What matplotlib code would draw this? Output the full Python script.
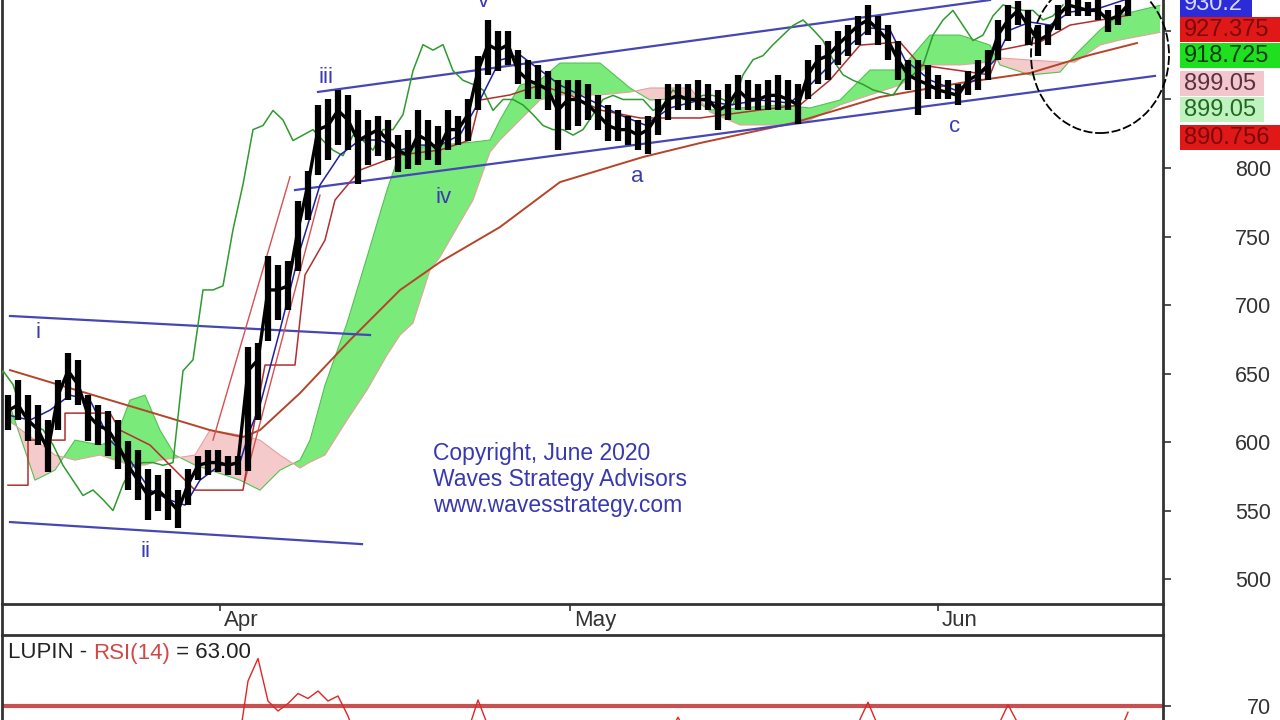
import matplotlib.pyplot as plt
from matplotlib.patches import Ellipse, Rectangle
from matplotlib.lines import Line2D
from matplotlib.transforms import ScaledTranslation
import numpy as np

plt.rcParams['font.family'] = ['Liberation Sans', 'DejaVu Sans']

# hourly bars (index 0..112)
highs = [634, 645, 634, 627, 616, 645, 665, 660, 634, 627,
         623, 616, 601, 594, 580, 576, 580, 565, 580, 590,
         594, 594, 590, 590, 669, 672, 736, 729, 732, 776,
         798, 846, 850, 857, 853, 842, 835, 838, 835, 824,
         828, 842, 835, 831, 842, 838, 850, 882, 908, 900,
         900, 886, 879, 875, 871, 864, 864, 864, 861, 853,
         846, 842, 838, 835, 838, 850, 861, 861, 861, 864,
         861, 857, 861, 868, 864, 861, 864, 868, 864, 861,
         879, 890, 893, 900, 904, 911, 919, 911, 904, 893,
         879, 879, 875, 868, 864, 861, 871, 879, 886, 908,
         919, 922, 915, 904, 904, 919, 925, 925, 921, 924,
         915, 919, 925]
lows = [609, 616, 601, 598, 578, 609, 631, 627, 601, 598,
        590, 580, 565, 558, 543, 550, 543, 537, 554, 572,
        576, 578, 576, 576, 579, 616, 674, 689, 696, 725,
        762, 795, 806, 817, 813, 788, 802, 809, 806, 797,
        799, 802, 806, 802, 813, 817, 820, 842, 868, 871,
        875, 861, 850, 850, 842, 813, 828, 831, 835, 828,
        820, 820, 817, 813, 810, 824, 835, 842, 842, 842,
        842, 828, 835, 842, 842, 842, 842, 842, 842, 832,
        850, 861, 864, 875, 882, 890, 897, 890, 879, 864,
        857, 839, 850, 850, 850, 846, 853, 857, 864, 879,
        893, 904, 890, 882, 890, 901, 911, 911, 911, 908,
        899, 904, 911]
closes = [623, 627, 616, 609, 594, 634, 652, 642, 620, 612,
          609, 598, 583, 572, 561, 565, 558, 550, 569, 583,
          585, 585, 583, 585, 652, 660, 711, 711, 714, 755,
          788, 828, 831, 842, 835, 820, 824, 828, 820, 813,
          809, 824, 820, 813, 828, 828, 839, 871, 890, 886,
          890, 871, 864, 861, 857, 842, 850, 850, 846, 839,
          831, 828, 828, 824, 828, 839, 850, 853, 850, 850,
          850, 842, 846, 857, 850, 850, 853, 853, 850, 846,
          868, 879, 882, 890, 897, 904, 908, 901, 893, 879,
          868, 864, 861, 857, 855, 853, 864, 868, 875, 897,
          908, 915, 904, 893, 897, 911, 919, 917, 915, 915,
          908, 911, 919]
rsi = [52, 55, 50, 48, 45, 55, 60, 57, 50, 48,
       47, 45, 42, 40, 38, 40, 38, 36, 45, 50,
       52, 52, 51, 53, 80, 89, 72, 68, 71, 75,
       73, 76, 72, 74, 66, 55, 55, 56, 53, 50,
       49, 55, 53, 50, 56, 56, 60, 72.4, 62, 60,
       61, 55, 52, 51, 50, 45, 50, 50, 48, 46,
       44, 43, 43, 42, 44, 52, 58, 65.5, 58, 59,
       58, 53, 55, 60, 57, 57, 59, 59, 56, 54,
       58, 60, 59, 60, 61, 63, 71.5, 62, 58, 50,
       46, 45, 45, 44, 44, 43, 50, 53, 57, 62,
       70.5, 63, 60, 55, 57, 62, 63, 62, 61, 62,
       58, 58, 67.5]
bars = np.arange(len(closes))

tenkan_x = [0, 2.2, 4.2, 6.2, 8.2, 10.2, 12.2, 14.2, 16.2, 17.7,
            19.2, 21.2, 23.2, 24.2, 25.2, 27.2, 29.2, 31.2, 33.2, 35.2,
            37.2, 39.2, 41.2, 43.2, 45.2, 47.2, 49.2, 51.2, 53.2, 55.2,
            58.2, 61.2, 63.7, 66.2, 69.2, 72.2, 75.2, 78.2, 80.2, 82.2,
            84.2, 86.2, 88.2, 89.7, 92.2, 94.7, 96.7, 98.7, 100.2, 102.2,
            104.2, 106.2, 109.2, 112.2]
tenkan = [619.7, 616.0, 623.3, 634.2, 630.6, 601.4, 586.8, 564.9, 557.6, 554.0,
          572.2, 583.1, 585.3, 608.7, 626.9, 681.7, 740.1, 787.6, 809.5, 820.4,
          820.4, 813.1, 816.7, 816.7, 824.1, 849.6, 878.8, 882.5, 871.5, 860.5,
          849.6, 838.7, 831.4, 843.8, 849.6, 846.0, 849.6, 847.4, 860.5, 875.2,
          889.7, 902.2, 900.7, 878.8, 864.2, 856.9, 864.2, 878.8, 900.7, 906.5,
          904.3, 913.8, 916.8, 924.0]

kijun_x = [0, 2.0, 2.0, 5.7, 5.7, 10.2, 11.2, 14.2, 16.7, 18.7,
           23.5, 24.5, 25.7, 28.7, 29.7, 31.7, 32.7, 35.2, 39.2, 43.2,
           46.2, 47.2, 50.2, 53.2, 56.2, 59.2, 63.2, 69.2, 75.2, 79.2,
           82.2, 85.2, 89.2, 91.2, 98.2, 99.2, 103.2, 106.2, 112.2]
kijun = [568.5, 568.5, 601.4, 601.4, 621.1, 621.1, 608.7, 597.8, 579.5, 564.9,
         564.9, 608.7, 656.2, 656.2, 721.9, 747.4, 776.6, 798.5, 809.5, 813.1,
         820.4, 849.6, 853.3, 860.5, 853.3, 842.3, 836.5, 836.5, 842.3, 846.0,
         864.2, 889.7, 891.9, 875.2, 867.9, 886.1, 891.9, 904.3, 911.6]

ma_x = [0.2, 5.2, 10.2, 15.2, 20.2, 23.5, 25.2, 29.2, 34.2, 39.2,
        43.2, 49.2, 55.2, 63.5, 69.2, 78.5, 87.2, 95.2, 102.2, 108.2, 112.9]
ma = [652.5, 641.5, 630.6, 619.7, 608.7, 603.6, 608.7, 635.7, 674.4, 710.9,
      731.3, 756.9, 789.7, 808.0, 818.2, 832.8, 851.8, 862.0, 869.3, 882.5, 891.2]

cloud_x = [0.0, 2.7, 4.7, 6.7, 9.2, 10.7, 12.2, 13.7, 15.2, 16.7,
           18.7, 20.2, 23.2, 25.2, 27.2, 29.2, 30.2, 31.7, 33.9, 35.9,
           37.9, 39.2, 40.5, 42.2, 43.2, 46.5, 48.2, 49.2, 51.2, 53.2,
           55.2, 59.2, 62.2, 64.2, 68.2, 70.2, 73.2, 77.2, 80.2, 83.2,
           86.2, 89.2, 92.2, 95.2, 98.2, 99.2, 102.2, 105.2, 106.7, 109.2,
           111.2, 115.2]
span_a = [630.6, 572.2, 579.5, 601.4, 597.8, 601.4, 630.6, 634.2, 608.7, 590.5,
          583.2, 579.5, 572.2, 564.9, 579.5, 586.8, 601.4, 641.5, 686.8, 735.0,
          783.9, 811.6, 814.6, 816.0, 816.7, 818.9, 820.4, 835.0, 860.5, 864.2,
          876.6, 876.6, 858.4, 849.6, 851.1, 842.3, 843.8, 846.0, 843.8, 849.6,
          871.5, 871.5, 897.0, 897.0, 889.7, 875.2, 867.9, 870.0, 882.5, 900.7,
          911.7, 918.7]
span_b = [616.0, 601.4, 590.5, 586.8, 590.5, 586.8, 583.2, 583.2, 586.8, 588.3,
          590.5, 608.7, 605.1, 601.4, 590.5, 581.0, 585.3, 590.5, 616.0, 637.9,
          663.4, 678.0, 686.8, 725.5, 735.0, 776.6, 811.6, 820.4, 835.0, 849.6,
          853.3, 853.3, 855.4, 858.4, 858.4, 840.8, 831.4, 831.4, 835.0, 846.0,
          853.3, 860.5, 875.2, 875.2, 877.3, 880.3, 878.8, 877.3, 877.3, 889.7,
          893.4, 899.0]

chikou_shift = 6.5

# wave channels: (bar, price) anchors
channels = [((0.2, 692.0), (36.2, 678.1)),
            ((0.2, 541.6), (35.4, 525.5)),
            ((31.0, 855.5), (98.2, 922.6)),
            ((28.7, 783.9), (114.7, 867.2))]
red_guides = [((20.5, 601.4), (28.2, 793.6)),
              ((23.7, 572.2), (31.2, 780.2))]
wave_labels = ['i', 'ii', 'iii', 'iv', 'v', 'a', 'c']
wave_pos = [(3.0, 680.2), (13.7, 520.4), (31.8, 866.4), (43.6, 778.1),
            (47.5, 921.5), (62.9, 794.1), (94.7, 830.6)]

month_ticks = [21.2, 56.2, 93.0]
month_labels = ['Apr', 'May', 'Jun']
price_ticks = [500, 550, 600, 650, 700, 750, 800, 850, 900]
price_labels = ['500', '550', '600', '650', '700', '750', '800', '', '']

tag_values = ['930.2', '927.375', '918.725', '899.05', '899.05', '890.756']
tag_face = ['#2b2bd8', '#e01818', '#1ee01e', '#f2c6cc', '#bff2bf', '#e01818']
tag_color = ['#d8d8ff', '#7a0a0a', '#0c3c0c', '#5a3040', '#1f6a1f', '#7a0a0a']

copyright_lines = ['Copyright, June 2020', 'Waves Strategy Advisors',
                   'www.wavesstrategy.com']

W, H = 1280, 720


def box(x0, y0, x1, y1):
    return [x0 / W, 1 - y1 / H, (x1 - x0) / W, (y1 - y0) / H]


fig = plt.figure(figsize=(12.8, 7.2), dpi=100)
ax = fig.add_axes(box(2, 0, 1163, 604))
rs = fig.add_axes(box(2, 635, 1163, 720), sharex=ax)

# cloud
a = np.array(span_a)
b = np.array(span_b)
ax.fill_between(cloud_x, a, b, where=a >= b, interpolate=True,
                color='#7aea7a', lw=0, zorder=1)
ax.fill_between(cloud_x, a, b, where=a < b, interpolate=True,
                color='#f4caca', lw=0, zorder=1)
ax.plot(cloud_x, span_a, color='#52c252', lw=0.8, zorder=2)
ax.plot(cloud_x, span_b, color='#e8a0a0', lw=0.8, zorder=2)

ax.plot(ma_x, ma, color='#b5442a', lw=1.4, zorder=2)
for (x0, y0), (x1, y1) in channels:
    ax.plot([x0, x1], [y0, y1], color='#4646b4', lw=1.6, zorder=3)
for (x0, y0), (x1, y1) in red_guides:
    ax.plot([x0, x1], [y0, y1], color='#d85050', lw=1.0, zorder=3)

ax.plot(bars - chikou_shift, closes, color='#2f9a2f', lw=1.1, zorder=3)
ax.plot(kijun_x, kijun, color='#b03030', lw=1.1, zorder=3)
ax.plot(tenkan_x, tenkan, color='#2020a0', lw=1.1, zorder=3)

# price bars
ax.vlines(bars, lows, highs, color='k', lw=4.5, zorder=4)
ax.plot(bars, closes, color='k', lw=2.4, zorder=4)

ax.add_patch(Ellipse((109.2, 882.5), 13.8, 114, fill=False, ec='k', lw=1.3,
                     ls=(0, (5, 1.5)), zorder=5, clip_on=False))

for lbl, (x, y) in zip(wave_labels, wave_pos):
    ax.text(x, y, lbl, color='#3c3cb0', fontsize=16, ha='center', va='center',
            zorder=6)
for k, line in enumerate(copyright_lines):
    ax.text(42.5, 591.9 - 19 * k, line, color='#3838b0', fontsize=16.5,
            ha='left', va='center', zorder=6)

ax.set_xlim(-0.6, 115.5)
ax.set_ylim(481.8, 922.6)
ax.set_yticks(price_ticks)
ax.set_yticklabels(price_labels)
ax.set_xticks(month_ticks)
ax.set_xticklabels(month_labels)
ax.tick_params(axis='y', left=False, right=True, labelleft=False,
               labelright=True, length=6, width=1.2, direction='out',
               pad=72, labelsize=15.5, labelcolor='#333333', color='#333333')
ax.tick_params(axis='x', length=5, width=1.2, direction='out', pad=-1,
               labelsize=16, labelcolor='#333333', color='#333333')
for t in ax.get_yticklabels():
    t.set_ha('right')
shift = ScaledTranslation(4 / 100, 0, fig.dpi_scale_trans)
for t in ax.get_xticklabels():
    t.set_ha('left')
    t.set_transform(t.get_transform() + shift)
ax.spines['top'].set_visible(False)
for s in ['left', 'right', 'bottom']:
    ax.spines[s].set_linewidth(2)
    ax.spines[s].set_color('#333333')

# RSI panel
rs.axhline(70, color='#c85050', lw=3, zorder=1)
rs.plot(bars, rsi, color='#e02525', lw=1.0, zorder=2)
rs.set_ylim(64.4, 98.4)
rs.set_yticks([70])
rs.tick_params(axis='y', left=False, right=True, labelleft=False,
               labelright=True, length=6, width=1.2, pad=72, labelsize=15.5,
               labelcolor='#333333', color='#333333')
for t in rs.get_yticklabels():
    t.set_ha('right')
rs.tick_params(axis='x', bottom=False, labelbottom=False)
rs.spines['bottom'].set_visible(False)
for s in ['left', 'right', 'top']:
    rs.spines[s].set_linewidth(2)
    rs.spines[s].set_color('#333333')

t1 = fig.text(8 / W, 1 - 653 / H, 'LUPIN - ', fontsize=16, color='#222222',
              va='center')
t2 = fig.text(0, 0, 'RSI(14)', fontsize=16, color='#d04848')
t3 = fig.text(0, 0, ' = 63.00', fontsize=16, color='#222222')
fig.canvas.draw()
r = fig.canvas.get_renderer()
bb = t1.get_window_extent(r)
t2.set_position((bb.x1 / W, 1 - 653 / H))
t2.set_va('center')
bb = t2.get_window_extent(r)
t3.set_position((bb.x1 / W, 1 - 653 / H))
t3.set_va('center')

# borders across the date strip
for xp in (2, 1163):
    fig.add_artist(Line2D([xp / W, xp / W], [1 - 604 / H, 1 - 635 / H],
                          color='#333333', lw=2))

# value tags
tops = [-8, 17, 43, 71, 97, 125]
widths = [72, 100, 100, 84, 84, 100]
for val, fc, tc, top, w in zip(tag_values, tag_face, tag_color, tops, widths):
    fig.add_artist(Rectangle((1180 / W, 1 - (top + 25) / H), w / W, 25 / H,
                             transform=fig.transFigure, fc=fc, ec='none',
                             zorder=10))
    fig.text(1184 / W, 1 - (top + 12.5) / H, val, fontsize=17, color=tc,
             va='center', ha='left', zorder=11)

fig.savefig('out.png', dpi=100)
